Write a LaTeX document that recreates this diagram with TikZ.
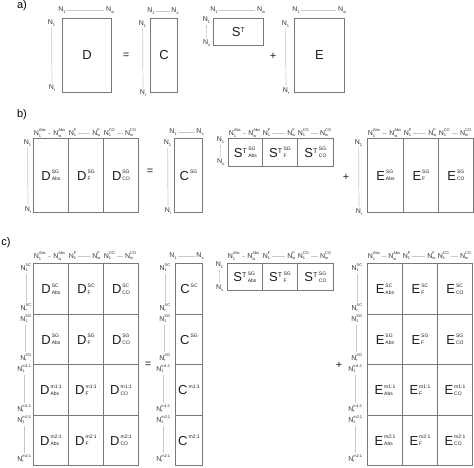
\documentclass[tikz,border=0pt]{standalone}
\usepackage{fontspec}
\setmainfont{Liberation Sans}
\definecolor{bordc}{RGB}{120,120,120}
\definecolor{txtc}{RGB}{30,30,30}
\definecolor{labc}{RGB}{50,50,50}
\definecolor{connc}{RGB}{200,200,200}
\newsavebox\supbx
\newsavebox\subbx
\newlength\sslen
\newcommand\twoscr[4]{%
  \sbox\supbx{#3}\sbox\subbx{#4}%
  \ifdim\wd\supbx>\wd\subbx\setlength\sslen{\wd\supbx}\else\setlength\sslen{\wd\subbx}\fi
  \rlap{\raisebox{#1}{\usebox\supbx}}\rlap{\raisebox{#2}{\usebox\subbx}}\hspace*{\sslen}}
\newcommand\tinyfs{\fontsize{4}{4.5}\selectfont}
\newcommand\smallfs{\fontsize{5}{6}\selectfont}
\newcommand\bigfs{\fontsize{13}{15}\selectfont}
\newcommand\Nlab[2]{{\fontsize{7}{8}\selectfont N}\twoscr{3.8pt}{-1.3pt}{\tinyfs #2}{\tinyfs #1}}
\newcommand\Clab[3]{{\bigfs #1}\hspace{1pt}\twoscr{6.8pt}{-0.5pt}{\smallfs #2}{\smallfs #3}}
\newcommand\Slab[2]{{\bigfs S}\raisebox{4.3pt}{\fontsize{7}{8}\selectfont T}\hspace{1.5pt}\twoscr{6.8pt}{-0.5pt}{\smallfs #1}{\smallfs #2}}
\newcommand\cellbox[6]{\node[box,minimum width=#4pt,minimum height=#5pt] (#1) at (#2,#3) {#6};}
\newcommand\colhead[5]{%
  \node[lab,anchor=west] (#1a) at (#2,#4) {\Nlab{1}{#5}};
  \node[lab,anchor=east] (#1b) at (#3,#4) {\Nlab{w}{#5}};
  \draw[conn] (#1a) -- (#1b);}
\newcommand\rowhead[6]{%
  \node[lab,anchor=east] (#1t) at (#2,#3) {\Nlab{1}{#5}};
  \node[lab,anchor=east] (#1b) at (#2,#4) {\Nlab{#6}{#5}};
  \draw[conn] (#1t) -- (#1b);}
\newcommand\pairhead[5]{%
  \node[lab] (#1a) at (#2,#4) {\Nlab{1}{}};
  \node[lab] (#1b) at (#3,#4) {\Nlab{#5}{}};
  \draw[conn] (#1a) -- (#1b);}
\begin{document}
\begin{tikzpicture}[x=1pt,y=-1pt,
  box/.style={draw=bordc,line width=0.9pt,inner sep=0pt,anchor=north west,text=txtc},
  lab/.style={inner sep=0.6pt,text=labc},
  conn/.style={draw=connc,line width=0.7pt,shorten >=1pt,shorten <=1pt},
  op/.style={font=\fontsize{11}{13}\selectfont,text=txtc,inner sep=0pt},
  tag/.style={font=\fontsize{11}{13}\selectfont,text=black,inner sep=0pt}]
\useasboundingbox (0,0) rectangle (474,467);
% ---------------- a)
\node[tag] (ta) at (22,6) {a)};
\cellbox{Da}{62}{18}{49}{74}{\bigfs D}
\cellbox{Ca}{150}{18}{27}{74}{\bigfs C}
\cellbox{Sa}{213}{18}{50}{27}{\bigfs S\raisebox{4.3pt}{\fontsize{7}{8}\selectfont T}}
\cellbox{Ea}{294}{18}{50}{74}{\bigfs E}
\node[op] (eqa) at (126,56) {=};
\node[op] (pla) at (273,56) {+};
\pairhead{Dah}{62}{110}{10}{w}
\pairhead{Cah}{151}{175}{11}{s}
\pairhead{Sah}{214}{261}{10}{w}
\pairhead{Eah}{296}{342}{10}{w}
\rowhead{Dar}{56}{23}{88}{}{r}
\rowhead{Car}{147}{24}{93}{}{r}
\rowhead{Sar}{211}{20}{43}{}{s}
\rowhead{Ear}{290}{24}{91}{}{r}
% ---------------- b)
\node[tag] (tb) at (22,115) {b)};
\cellbox{Db1}{33}{138}{35}{74}{\Clab{D}{SG}{Abs}}
\cellbox{Db2}{68}{138}{35}{74}{\Clab{D}{SG}{F}}
\cellbox{Db3}{103}{138}{35}{74}{\Clab{D}{SG}{CO}}
\cellbox{Cb}{174}{138}{28}{74}{\Clab{C}{SG}{}}
\cellbox{Sb1}{228}{138}{34}{28}{\Slab{SG}{Abs}}
\cellbox{Sb2}{262}{138}{35}{28}{\Slab{SG}{F}}
\cellbox{Sb3}{297}{138}{36}{28}{\Slab{SG}{CO}}
\cellbox{Eb1}{367}{138}{36}{74}{\Clab{E}{SG}{Abs}}
\cellbox{Eb2}{403}{138}{35}{74}{\Clab{E}{SG}{F}}
\cellbox{Eb3}{438}{138}{35}{74}{\Clab{E}{SG}{CO}}
\node[op] (eqb) at (150,172) {=};
\node[op] (plb) at (346,177) {+};
\colhead{Dbh1}{33}{66}{133}{Abs}
\colhead{Dbh2}{68}{101}{133}{F}
\colhead{Dbh3}{103}{137}{133}{CO}
\pairhead{Cbh}{173}{200}{132}{s}
\colhead{Sbh1}{228}{261}{133}{Abs}
\colhead{Sbh2}{262}{296}{133}{F}
\colhead{Sbh3}{297}{332}{133}{CO}
\colhead{Ebh1}{367}{402}{133}{Abs}
\colhead{Ebh2}{403}{437}{133}{F}
\colhead{Ebh3}{438}{472}{133}{CO}
\rowhead{Dbr}{32}{143}{210}{}{r}
\rowhead{Cbr}{172}{143}{211}{}{r}
\rowhead{Sbr}{225}{140}{162}{}{s}
\rowhead{Ebr}{363}{143}{212}{}{r}
% ---------------- c)
\node[tag] (tc) at (6,243) {c)};
\foreach \rn/\ry/\rh/\rs in {a/263/51/SC, b/314/50/SG, c/364/51/m1:1, d/415/50/m2:1}{
  \cellbox{Dc\rn1}{33}{\ry}{35}{\rh}{\Clab{D}{\rs}{Abs}}
  \cellbox{Dc\rn2}{68}{\ry}{35}{\rh}{\Clab{D}{\rs}{F}}
  \cellbox{Dc\rn3}{103}{\ry}{35}{\rh}{\Clab{D}{\rs}{CO}}
  \cellbox{Cc\rn}{175}{\ry}{27}{\rh}{\Clab{C}{\rs}{}}
  \cellbox{Ec\rn1}{367}{\ry}{35}{\rh}{\Clab{E}{\rs}{Abs}}
  \cellbox{Ec\rn2}{402}{\ry}{35}{\rh}{\Clab{E}{\rs}{F}}
  \cellbox{Ec\rn3}{437}{\ry}{35}{\rh}{\Clab{E}{\rs}{CO}}
  \pgfmathsetmacro\yt{\ry+5}
  \pgfmathsetmacro\yb{\ry+\rh-6}
  \rowhead{Dcr\rn}{32}{\yt}{\yb}{\rs}{r}
  \rowhead{Ccr\rn}{171}{\yt}{\yb}{\rs}{r}
  \rowhead{Ecr\rn}{363}{\yt}{\yb}{\rs}{r}
}
\cellbox{Sc1}{227}{263}{35}{27}{\Slab{SG}{Abs}}
\cellbox{Sc2}{262}{263}{35}{27}{\Slab{SG}{F}}
\cellbox{Sc3}{297}{263}{36}{27}{\Slab{SG}{CO}}
\node[op] (eqc) at (148,365) {=};
\node[op] (plc) at (339,365) {+};
\colhead{Dch1}{33}{66}{256}{Abs}
\colhead{Dch2}{68}{101}{256}{F}
\colhead{Dch3}{103}{137}{256}{CO}
\pairhead{Cch}{173}{200}{256}{s}
\colhead{Sch1}{227}{260}{256}{Abs}
\colhead{Sch2}{262}{296}{256}{F}
\colhead{Sch3}{297}{332}{256}{CO}
\colhead{Ech1}{367}{401}{256}{Abs}
\colhead{Ech2}{402}{436}{256}{F}
\colhead{Ech3}{437}{472}{256}{CO}
\rowhead{Scr}{224}{265}{288}{}{s}
\end{tikzpicture}
\end{document}
